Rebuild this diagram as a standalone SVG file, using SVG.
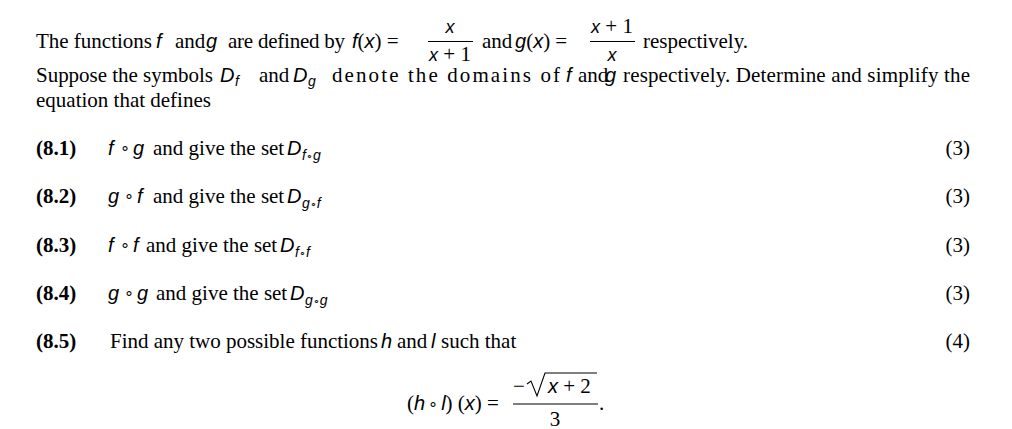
<svg xmlns="http://www.w3.org/2000/svg" width="1012" height="429" viewBox="0 0 1012 429">
<style>
text{font-family:"Liberation Serif","Times New Roman",serif;font-size:21px;fill:#000}
.m{font-family:"Liberation Sans",Arial,sans-serif;font-style:italic;font-size:20px}
.fr{font-size:18px}
.r{font-family:"Liberation Sans",Arial,sans-serif;font-style:normal;font-size:16px}
.n{font-family:"Liberation Serif","Times New Roman",serif;font-style:normal;font-size:21px}
.s{font-family:"Liberation Sans",Arial,sans-serif;font-style:italic;font-size:14px}
.so{font-family:"Liberation Sans",Arial,sans-serif;font-style:normal;font-size:11px}
.b{font-weight:bold}
line{stroke:#000;stroke-width:1.1}
</style>
<rect width="1012" height="429" fill="#fff"/>
<g id="intro">
<text x="36" y="48" textLength="116">The functions</text><text class="m" x="156" y="48">f</text><text x="175" y="48">and</text><text class="m" x="206" y="48">g</text><text x="228" y="48" textLength="117">are defined by</text>
<text class="m" x="352" y="48">f<tspan class="n">(</tspan>x<tspan class="n">) =</tspan></text>
<text class="m fr" x="450" y="33" text-anchor="middle">x</text><line x1="428" y1="41.5" x2="473" y2="41.5"/><text class="m fr" x="450" y="61" text-anchor="middle">x<tspan class="n fr"> + 1</tspan></text>
<text x="482" y="48">and</text>
<text class="m" x="515" y="48">g<tspan class="n">(</tspan>x<tspan class="n">) =</tspan></text>
<text class="m fr" x="612" y="33" text-anchor="middle">x<tspan class="n fr"> + 1</tspan></text><line x1="590" y1="41.5" x2="635" y2="41.5"/><text class="m fr" x="612" y="61" text-anchor="middle">x</text>
<text x="643" y="48" textLength="105">respectively.</text>
<text x="36" y="82" textLength="177">Suppose the symbols</text><text class="m" x="220" y="82">D</text><text class="s" x="235" y="86">f</text>
<text x="259" y="82">and</text><text class="m" x="293" y="82">D</text><text class="s" x="308" y="86">g</text>
<text x="332" y="82" textLength="228">denote the domains of</text><text class="m" x="566" y="82">f</text><text x="578" y="82">and</text><text class="m" x="605" y="82">g</text>
<text x="623" y="82" textLength="347">respectively.  Determine and simplify the</text>
<text x="36" y="107">equation that defines</text>
</g>
<g id="q81"><text class="b" x="36" y="155">(8.1)</text><text class="m" x="108" y="155">f</text><text class="r" x="120" y="154">∘</text><text class="m" x="133" y="155">g</text><text x="153" y="155">and give the set</text><text class="m" x="287" y="155">D</text><text class="s" x="302" y="160">f<tspan class="so">∘</tspan>g</text><text x="970" y="155" text-anchor="end">(3)</text></g>
<g id="q82"><text class="b" x="36" y="203">(8.2)</text><text class="m" x="108" y="203">g</text><text class="r" x="124" y="202">∘</text><text class="m" x="137" y="203">f</text><text x="153" y="203">and give the set</text><text class="m" x="287" y="203">D</text><text class="s" x="302" y="208">g<tspan class="so">∘</tspan>f</text><text x="970" y="203" text-anchor="end">(3)</text></g>
<g id="q83"><text class="b" x="36" y="252">(8.3)</text><text class="m" x="108" y="252">f</text><text class="r" x="120" y="251">∘</text><text class="m" x="133" y="252">f</text><text x="146" y="252">and give the set</text><text class="m" x="280" y="252">D</text><text class="s" x="295" y="257">f<tspan class="so">∘</tspan>f</text><text x="970" y="252" text-anchor="end">(3)</text></g>
<g id="q84"><text class="b" x="36" y="300">(8.4)</text><text class="m" x="108" y="300">g</text><text class="r" x="124" y="299">∘</text><text class="m" x="137" y="300">g</text><text x="156" y="300">and give the set</text><text class="m" x="290" y="300">D</text><text class="s" x="305" y="305">g<tspan class="so">∘</tspan>g</text><text x="970" y="300" text-anchor="end">(3)</text></g>
<g id="q85"><text class="b" x="36" y="348">(8.5)</text><text x="110" y="348" textLength="268">Find any two possible functions</text><text class="m" x="381" y="348">h</text><text x="397" y="348">and</text><text class="m" x="431" y="348">l</text><text x="441" y="348">such that</text><text x="970" y="348" text-anchor="end">(4)</text>
<text class="n" x="407" y="410">(<tspan class="m">h</tspan><tspan class="r" dx="3">∘</tspan><tspan class="m" dx="3">l</tspan>) (<tspan class="m">x</tspan>) =</text>
<text class="n" x="513" y="393">−</text><path d="M527 384 L531 381 L537 396 L545 373 L597 373" fill="none" stroke="#000" stroke-width="1.1"/><text class="m" x="548" y="393">x<tspan class="n"> + 2</tspan></text>
<line x1="513" y1="404" x2="598" y2="404"/><text x="555" y="426" text-anchor="middle">3</text><text x="599" y="410">.</text>
</g>
</svg>
